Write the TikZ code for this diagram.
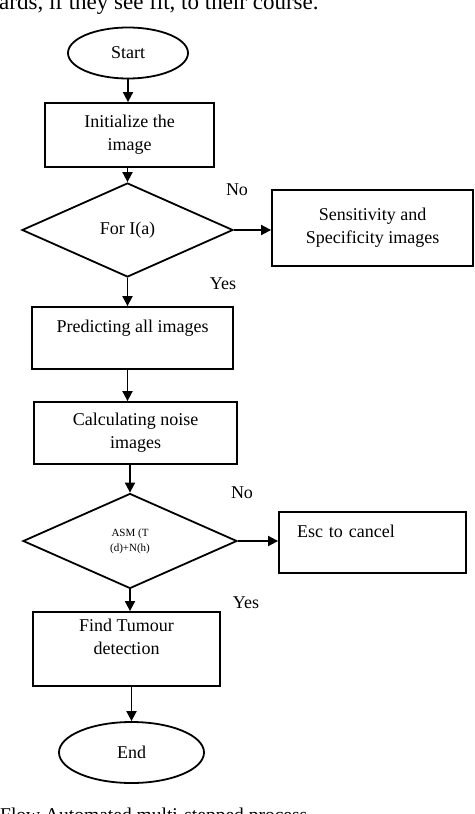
\documentclass[tikz,border=0pt]{standalone}
\usepackage{fontspec}
\setmainfont{Liberation Serif}
\usepackage{tikz}
\usetikzlibrary{shapes.geometric,arrows.meta}
\tikzset{>={Triangle[length=10pt,width=10pt]}}
\tikzset{
  box/.style={draw,line width=1.8pt,align=center,inner sep=0pt,font=\fontsize{18}{23}\selectfont},
  term/.style={ellipse,draw,line width=1.8pt,inner sep=0pt,font=\fontsize{18}{23}\selectfont},
  decide/.style={diamond,draw,line width=1.8pt,inner sep=0pt,align=center},
  lbl/.style={inner sep=0pt,font=\fontsize{18}{23}\selectfont},
  flow/.style={line width=1.8pt,->}
}
\begin{document}
\begin{tikzpicture}[x=1pt,y=-1pt]
    \useasboundingbox (0,0) rectangle (474,814);
    % text of the page, cut by the crop
    \node[anchor=base west,inner sep=0pt,font=\fontsize{23}{27}\selectfont] (pagetop) at (-1,9.5) {ards, if they see fit, to their course.};
    \node[anchor=base west,inner sep=0pt,font=\fontsize{19.5}{23}\selectfont] (caption) at (0,821) {Flow Automated multi-stepped process};
    % main column
    \node[term,minimum width=120pt,minimum height=51pt] (start) at (128,53) {Start};
    \node[box,minimum width=169pt,minimum height=64pt] (init) at (129.5,135) {Initialize the\\image};
    \node[decide,minimum width=211pt,minimum height=94pt,font=\fontsize{18}{23}\selectfont] (forI) at (127.5,230) {For I(a)};
    \node[box,minimum width=201pt,minimum height=76pt] (sens) at (372.5,228) {Sensitivity and\\Specificity images};
    \node[box,minimum width=201pt,minimum height=62pt] (pred) at (132.5,338) {Predicting all images\\\mbox{}};
    \node[box,minimum width=203pt,minimum height=62pt] (noise) at (135.5,433) {Calculating noise\\images};
    \node[decide,minimum width=214pt,minimum height=95pt,font=\fontsize{11}{15}\selectfont] (asm) at (130,541) {ASM (T\\(d)+N(h)};
    \node[box,minimum width=187pt,minimum height=61pt,align=left,text width=151pt,inner xsep=18pt] (esc) at (372.5,542.5) {Esc to cancel\\\mbox{}};
    \node[box,minimum width=187pt,minimum height=74pt] (tumour) at (126.5,649) {Find Tumour\\detection\\[2pt]};
    \node[term,minimum width=145pt,minimum height=61pt] (end) at (131.5,752.5) {End};
    % yes / no
    \node[lbl] (no1) at (237,190) {No};
    \node[lbl] (yes1) at (223,284) {Yes};
    \node[lbl] (no2) at (242,493) {No};
    \node[lbl] (yes2) at (246,603) {Yes};
    % arrows
    \draw[flow] (start) -- (init.north -| start);
    \draw[flow] (init.south -| forI) -- (forI);
    \draw[flow] (forI) -- (sens.west |- forI);
    \draw[flow] (forI) -- (pred.north -| forI);
    \draw[flow] (pred.south -| forI) -- (noise.north -| forI);
    \draw[flow] (noise.south -| asm) -- (asm);
    \draw[flow] (asm) -- (esc.west |- asm);
    \draw[flow] (asm) -- (tumour.north -| asm);
    \draw[flow] (tumour.south -| end) -- (end);
\end{tikzpicture}
\end{document}
